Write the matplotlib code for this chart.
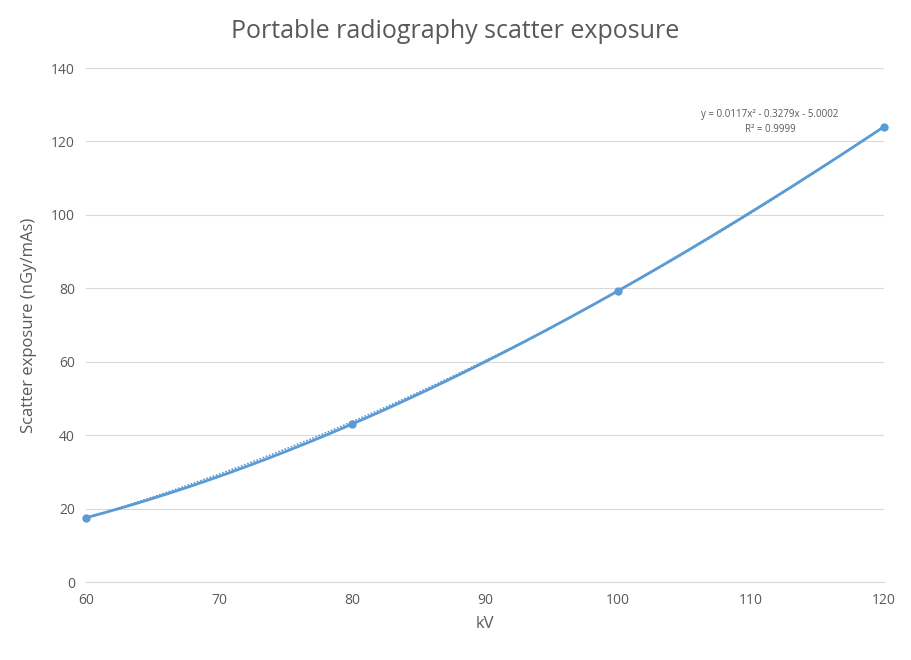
import numpy as np
import matplotlib
matplotlib.use("Agg")
import matplotlib.pyplot as plt

plt.rcParams['font.family'] = ['Open Sans', 'DejaVu Sans']

kv = [60, 80, 100, 120]
scatter = [17.5, 43.0, 79.3, 124.0]
trend_coef = [0.0117, -0.3279, -5.0002]
eq_text = "y = 0.0117x² - 0.3279x - 5.0002\nR² = 0.9999"

COLOR = "#5B9BD5"
GREY = "#595959"

fig = plt.figure(figsize=(9.11, 6.6), dpi=100)
ax = fig.add_axes([86 / 911, 78 / 660, 798 / 911, 514 / 660])

xs = np.linspace(kv[0], kv[-1], 200)
smooth = np.polyval(np.polyfit(kv, scatter, 3), xs)
ax.plot(xs, smooth, color=COLOR, lw=2, clip_on=False)
ax.plot(kv, scatter, 'o', color=COLOR, ms=5, clip_on=False)
ax.plot(xs, np.polyval(trend_coef, xs), color=COLOR, lw=1.2, ls=(0, (1, 1)), clip_on=False)

ax.text(770 / 911, 1 - 122 / 660, eq_text, transform=fig.transFigure,
        ha='center', va='center', fontsize=7, color=GREY, linespacing=1.4)

ax.set_xlim(60, 120)
ax.set_ylim(0, 140)
ax.set_xticks(range(60, 121, 10))
ax.set_yticks(range(0, 141, 20))
ax.yaxis.grid(True, color="#D9D9D9", lw=0.8)
ax.set_axisbelow(True)
for s in ['top', 'right', 'left']:
    ax.spines[s].set_visible(False)
ax.spines['bottom'].set_color("#D9D9D9")
ax.tick_params(length=0, labelsize=10, colors=GREY, pad=8)

ax.set_xlabel("kV", fontsize=12, color=GREY, labelpad=6)
ax.set_ylabel("Scatter exposure (nGy/mAs)", fontsize=12, color=GREY, labelpad=10)
fig.text(0.5, 1 - 32 / 660, "Portable radiography scatter exposure",
         ha='center', va='center', fontsize=18, color=GREY)

fig.savefig("out.png", dpi=100)
